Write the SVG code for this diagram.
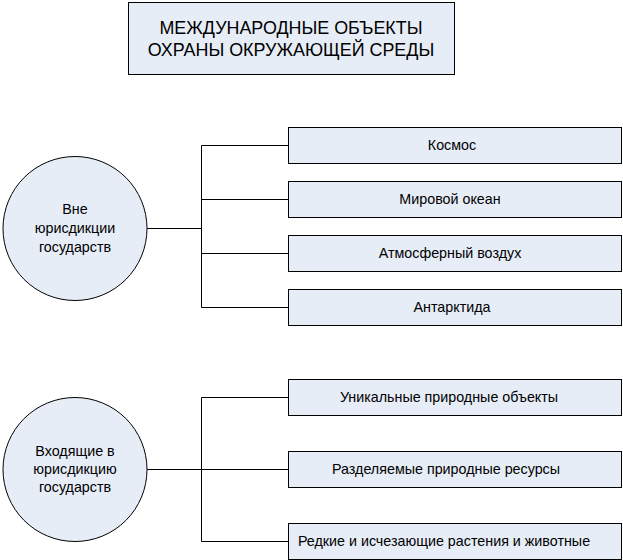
<svg xmlns="http://www.w3.org/2000/svg" width="623" height="560" viewBox="0 0 623 560">
<style>
.shape{fill:#E7EDF7;stroke:#000;stroke-width:1}
.t{font-family:"Liberation Sans",Arial,sans-serif;font-size:14.3px;fill:#000;text-anchor:middle}
.title{font-family:"Liberation Sans",Arial,sans-serif;font-size:17.9px;fill:#000;text-anchor:middle}
.conn{fill:none;stroke:#000;stroke-width:1}
</style>
<rect width="623" height="560" fill="#fff"/>
<g id="title">
<rect class="shape" x="128.5" y="2.5" width="326" height="72"/>
<text class="title" x="291" y="33.5">МЕЖДУНАРОДНЫЕ ОБЪЕКТЫ</text>
<text class="title" x="291" y="55.5">ОХРАНЫ ОКРУЖАЮЩЕЙ СРЕДЫ</text>
</g>
<g id="connectors">
<path class="conn" d="M147 228.5H201.5M201.5 145.5V307.5M201.5 145.5H288M201.5 199.5H288M201.5 253.5H288M201.5 307.5H288"/>
<path class="conn" d="M147 469.5H288M201.5 397.5V541.5M201.5 397.5H288M201.5 541.5H288"/>
</g>
<g id="outside">
<circle class="shape" cx="75" cy="228.5" r="72"/>
<text class="t" x="75" y="214">Вне</text>
<text class="t" x="75" y="233">юрисдикции</text>
<text class="t" x="75" y="252">государств</text>
</g>
<g id="space">
<rect class="shape" x="288.5" y="127.5" width="333" height="36"/>
<text class="t" x="452" y="150">Космос</text>
</g>
<g id="ocean">
<rect class="shape" x="288.5" y="181.5" width="333" height="36"/>
<text class="t" x="450" y="204">Мировой океан</text>
</g>
<g id="air">
<rect class="shape" x="288.5" y="235.5" width="333" height="36"/>
<text class="t" x="450" y="258">Атмосферный воздух</text>
</g>
<g id="antarctica">
<rect class="shape" x="288.5" y="289.5" width="333" height="36"/>
<text class="t" x="452" y="312">Антарктида</text>
</g>
<g id="inside">
<circle class="shape" cx="75" cy="469.5" r="72"/>
<text class="t" x="75" y="456">Входящие в</text>
<text class="t" x="75" y="474">юрисдикцию</text>
<text class="t" x="75" y="492">государств</text>
</g>
<g id="unique">
<rect class="shape" x="288.5" y="379.5" width="333" height="36"/>
<text class="t" x="449" y="402">Уникальные природные объекты</text>
</g>
<g id="shared">
<rect class="shape" x="288.5" y="451.5" width="333" height="36"/>
<text class="t" x="446" y="474">Разделяемые природные ресурсы</text>
</g>
<g id="rare">
<rect class="shape" x="288.5" y="523.5" width="333" height="36"/>
<text class="t" x="444" y="546">Редкие и исчезающие растения и животные</text>
</g>
</svg>
